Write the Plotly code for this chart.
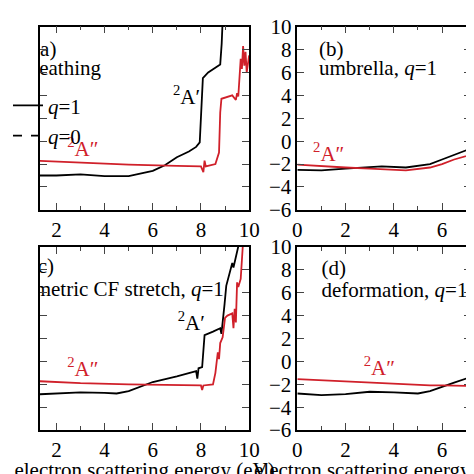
import plotly.graph_objects as go

# panel (a) breathing
a_blk_x = [1.0, 2.0, 3.0, 4.0, 5.0, 6.0, 6.5, 7.0, 7.5, 7.8, 7.95, 8.02, 8.08, 8.3, 8.6, 8.8, 8.86, 8.9]
a_blk_y = [-3.0, -3.0, -2.9, -3.05, -3.05, -2.6, -2.1, -1.4, -0.9, -0.5, -0.1, 3.5, 5.5, 6.0, 6.4, 6.7, 8.5, 10.5]
a_red_x = [1.0, 3.0, 5.0, 7.0, 8.0, 8.1, 8.15, 8.2, 8.6, 8.75, 8.8, 8.85, 9.0, 9.3, 9.45, 9.5, 9.55, 9.6, 9.65, 9.7, 9.75, 9.8, 9.85, 9.9, 10.0]
a_red_y = [-1.7, -1.9, -2.05, -2.15, -2.2, -2.7, -1.7, -2.2, -2.0, -1.0, 2.5, 3.7, 3.8, 4.0, 3.6, 4.2, 3.9, 5.5, 7.2, 6.3, 8.3, 6.6, 7.8, 6.0, 7.5]

# panel (b) umbrella
b_x = [0.0, 1.0, 2.0, 3.0, 3.5, 4.5, 5.5, 6.0, 6.5, 7.0, 7.5]
b_blk = [-2.5, -2.55, -2.4, -2.25, -2.2, -2.3, -2.0, -1.6, -1.2, -0.8, -0.6]
b_red = [-2.05, -2.2, -2.3, -2.4, -2.45, -2.55, -2.3, -2.0, -1.6, -1.3, -1.0]

# panel (c) asymmetric CF stretch
c_blk_x = [1.0, 2.0, 3.0, 4.0, 4.5, 5.0, 6.0, 7.0, 7.8, 7.85, 7.9, 8.05, 8.15, 8.5, 8.8, 8.85, 8.9, 8.98, 9.05, 9.2, 9.3, 9.35, 9.45, 9.5, 9.6]
c_blk_y = [-2.9, -2.8, -2.7, -2.75, -2.8, -2.6, -1.8, -1.3, -0.85, -1.5, -0.6, -0.5, 2.3, 2.6, 2.9, 2.4, 3.3, 5.0, 6.6, 7.8, 8.6, 8.2, 9.0, 9.6, 10.5]
c_red_x = [1.0, 3.0, 5.0, 7.0, 8.0, 8.05, 8.1, 8.5, 8.6, 8.7, 8.75, 8.8, 8.9, 9.0, 9.1, 9.3, 9.35, 9.4, 9.45, 9.5, 9.55, 9.65, 9.7, 9.75]
c_red_y = [-1.7, -1.9, -2.0, -2.05, -2.1, -2.5, -2.1, -2.0, -1.0, 0.8, 0.2, 1.6, 2.1, 3.8, 4.0, 4.2, 2.9, 4.6, 3.4, 6.9, 6.5, 7.2, 8.5, 10.5]

# panel (d) deformation
d_x = [0.0, 1.0, 2.0, 3.0, 4.0, 5.0, 5.5, 6.0, 6.5, 7.0, 7.5]
d_blk = [-2.8, -2.95, -2.85, -2.65, -2.7, -2.8, -2.6, -2.2, -1.85, -1.5, -1.3]
d_red = [-1.55, -1.65, -1.75, -1.85, -2.0, -2.05, -2.1, -2.1, -2.12, -2.15, -2.15]

RED = "#d0202a"
FONT = "Liberation Serif"
FS = 21
fig = go.Figure()

def add(x, y, color, ax, name=None, show=False):
    fig.add_trace(go.Scatter(x=x, y=y, mode="lines", line=dict(color=color, width=1.8),
                             xaxis="x" + ax, yaxis="y" + ax, name=name, showlegend=show))

add(a_blk_x, a_blk_y, "black", "", "<i>q</i>=1", True)
fig.add_trace(go.Scatter(x=[None], y=[None], mode="lines", line=dict(color="black", width=1.8, dash="dash"),
                         name="<i>q</i>=0", showlegend=True))
add(a_red_x, a_red_y, RED, "")
add(b_x, b_blk, "black", "2")
add(b_x, b_red, RED, "2")
add(c_blk_x, c_blk_y, "black", "3")
add(c_red_x, c_red_y, RED, "3")
add(d_x, d_blk, "black", "4")
add(d_x, d_red, RED, "4")

xl = [0, 230 / 474]
xr = [283 / 474, 1]
yt = [1 - 200 / 474, 1 - 7 / 474]
yb = [1 - 432 / 474, 1 - 239 / 474]

def xax(dom, rng, title, anchor):
    return dict(domain=dom, range=rng, anchor=anchor, ticks="inside", ticklen=7, dtick=2,
                minor=dict(ticks="inside", dtick=1, ticklen=4), showline=True, linecolor="black",
                linewidth=1.5, mirror="ticks", showgrid=False, zeroline=False,
                tickfont=dict(size=FS), title=dict(text=title, font=dict(size=FS), standoff=0))

def yax(dom, anchor, labels):
    return dict(domain=dom, range=[-6, 10], anchor=anchor, ticks="inside", ticklen=7, dtick=2,
                showline=True, linecolor="black", linewidth=1.5, mirror="ticks", showgrid=False,
                zeroline=False, showticklabels=labels, tickfont=dict(size=FS))

XT = "electron scattering energy (eV)"
fig.update_layout(
    width=474, height=474, margin=dict(l=0, r=0, t=0, b=0),
    plot_bgcolor="white", paper_bgcolor="white",
    font=dict(family=FONT, color="black", size=FS),
    xaxis=xax(xl, [1.32, 10], None, "y"), yaxis=yax(yt, "x", False),
    xaxis2=xax(xr, [0, 7.2], None, "y2"), yaxis2=yax(yt, "x2", True),
    xaxis3=xax(xl, [1.32, 10], XT, "y3"), yaxis3=yax(yb, "x3", False),
    xaxis4=xax(xr, [0, 7.2], XT, "y4"), yaxis4=yax(yb, "x4", True),
    legend=dict(x=-0.075, y=0.855, xanchor="left", yanchor="top", bgcolor="rgba(0,0,0,0)",
                font=dict(size=FS), tracegroupgap=0, itemwidth=30),
)

def note(x, y, text, ax, color="black", anchor="left"):
    pos = {"left": "middle right", "right": "middle left", "center": "middle center"}[anchor]
    fig.add_trace(go.Scatter(x=[x], y=[y], mode="text", text=[text], textposition=pos,
                             textfont=dict(color=color, size=FS, family=FONT),
                             xaxis="x" + ax, yaxis="y" + ax, showlegend=False, hoverinfo="skip"))

note(2.0, 7.9, "(a)", "", anchor="right")
note(3.85, 6.25, "breathing", "", anchor="right")
note(7.4, 3.7, "<sup>2</sup>A′", "", anchor="center")
note(3.1, -0.8, "<sup>2</sup>A″", "", RED, "center")
note(0.9, 7.9, "(b)", "2")
note(0.9, 6.2, "umbrella, <i>q</i>=1", "2")
note(1.3, -1.3, "<sup>2</sup>A″", "2", RED, "center")
note(1.9, 8.2, "(c)", "3", anchor="right")
note(8.95, 6.2, "asymmetric CF stretch, <i>q</i>=1", "3", anchor="right")
note(7.6, 3.2, "<sup>2</sup>A′", "3", anchor="center")
note(3.1, -0.8, "<sup>2</sup>A″", "3", RED, "center")
note(1.0, 8.0, "(d)", "4")
note(1.0, 6.1, "deformation, <i>q</i>=1", "4")
note(3.4, -0.7, "<sup>2</sup>A″", "4", RED, "center")
note(7.05, 4.0, "<sup>2</sup>A′", "4")

fig.write_html("out.html")
